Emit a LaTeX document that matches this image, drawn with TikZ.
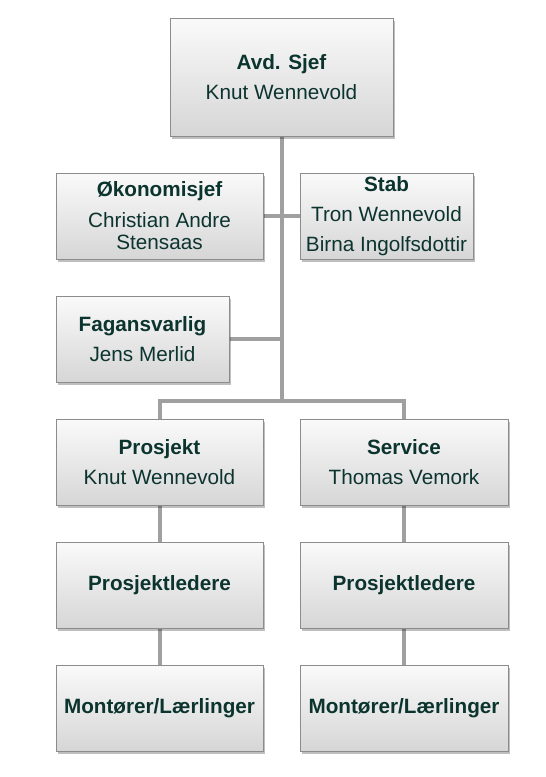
\documentclass[tikz,border=0pt]{standalone}
\usepackage{fontspec}
\setmainfont{Liberation Sans}
\usetikzlibrary{shadows,backgrounds}
\definecolor{txt}{RGB}{12,52,46}
\definecolor{conncol}{RGB}{160,160,160}
\definecolor{boxline}{RGB}{140,140,140}
\definecolor{boxtop}{RGB}{250,250,250}
\definecolor{boxbot}{RGB}{214,214,214}
\tikzset{
  orgbox/.style={draw=boxline, line width=1pt, top color=boxtop, bottom color=boxbot,
    drop shadow={shadow xshift=2pt, shadow yshift=-2.5pt, fill=black, opacity=0.25},
    text=txt, align=center, inner sep=2pt,
    font=\fontsize{20.7}{22}\selectfont, minimum height=86pt},
  conn/.style={draw=conncol, line width=4pt}
}
\begin{document}
\begin{tikzpicture}[x=1pt,y=-1pt]
\useasboundingbox (0,0) rectangle (546,777);
\node[orgbox, minimum width=223pt, minimum height=118pt] (top) at (281.5,77)
  {\textbf{Avd. Sjef}\\[8pt]Knut Wennevold};
\node[orgbox, minimum width=207pt] (oko) at (159.5,216)
  {\textbf{Økonomisjef}\\[9pt]Christian Andre\\Stensaas};
\node[orgbox, minimum width=173pt] (stab) at (386.5,216)
  {\textbf{Stab}\\[8pt]Tron Wennevold\\[8pt]Birna Ingolfsdottir};
\node[orgbox, minimum width=173pt] (fag) at (142.5,339)
  {\textbf{Fagansvarlig}\\[8pt]Jens Merlid};
\node[orgbox, minimum width=207pt] (pros) at (159.5,462)
  {\textbf{Prosjekt}\\[8pt]Knut Wennevold};
\node[orgbox, minimum width=208pt] (serv) at (404,462)
  {\textbf{Service}\\[8pt]Thomas Vemork};
\node[orgbox, minimum width=207pt] (pl1) at (159.5,585) {\textbf{Prosjektledere}};
\node[orgbox, minimum width=208pt] (pl2) at (404,585) {\textbf{Prosjektledere}};
\node[orgbox, minimum width=207pt] (ml1) at (159.5,708) {\textbf{Montører/Lærlinger}};
\node[orgbox, minimum width=208pt] (ml2) at (404,708) {\textbf{Montører/Lærlinger}};
\coordinate (j) at (281.5,401);
\begin{scope}[on background layer]
\draw[conn] (top.south) -- (j);
\draw[conn] (pros.north) |- (j) -| (serv.north);
\draw[conn] (oko.east) -- (oko.east -| j);
\draw[conn] (stab.west) -- (stab.west -| j);
\draw[conn] (fag.east) -- (fag.east -| j);
\draw[conn] (pros.south) -- (pl1.north);
\draw[conn] (pl1.south) -- (ml1.north);
\draw[conn] (serv.south) -- (pl2.north);
\draw[conn] (pl2.south) -- (ml2.north);
\end{scope}
\end{tikzpicture}
\end{document}
